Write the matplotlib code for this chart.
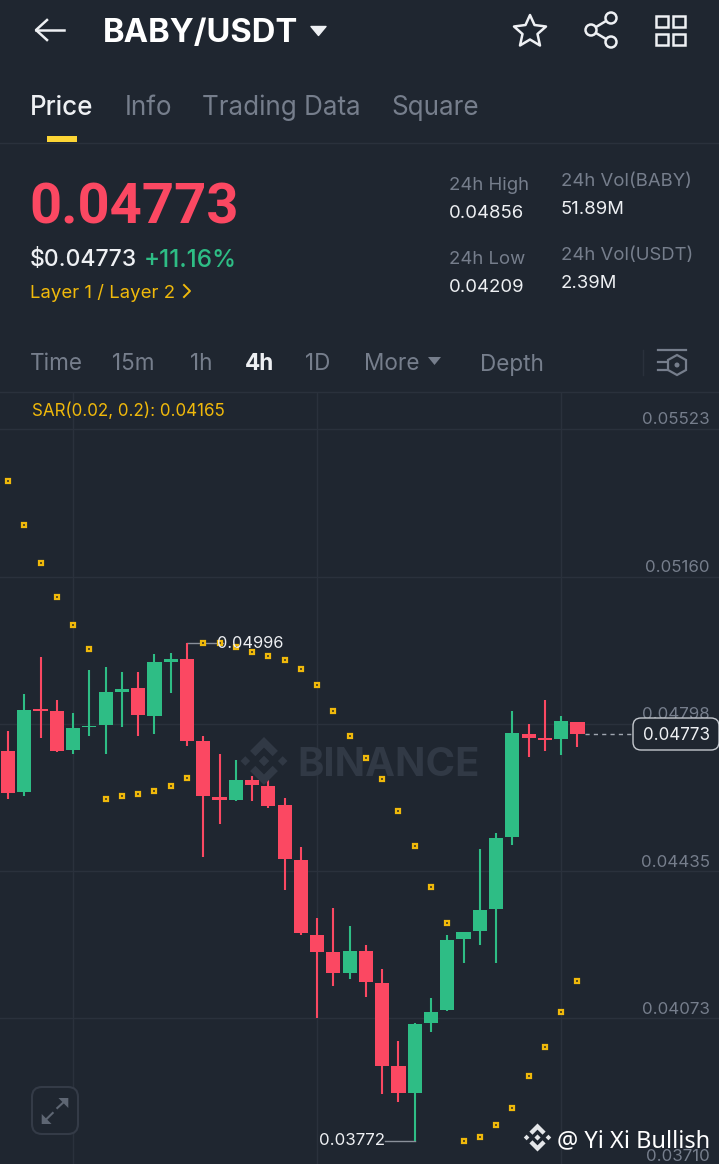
# -*- coding: utf-8 -*-
import matplotlib
matplotlib.use('Agg')
import matplotlib.pyplot as plt
from matplotlib.patches import Polygon, Circle, FancyBboxPatch, Rectangle

plt.rcParams['font.family'] = ['Inter', 'DejaVu Sans']

BG = '#1F2630'
GRID = '#2A313C'
RED = '#FB4862'
GREEN = '#2EBD85'
YELLOW = '#F0B90B'
GRAY = '#767E8C'
WHITE = '#EEF0F3'

# candle values
opens = [.04731, .04629, .04834, .04829, .04733, .04789, .04794, .04877, .04887, .04817, .04951, .04958,
         .04756, .04618, .04611, .04659, .04645, .04597, .04463, .04279, .04237, .04185, .04239, .04161,
         .03956, .03889, .04061, .04093, .04269, .04287, .04342, .04519, .04773, .04762, .04760, .04803]
closes = [.04628, .04832, .04829, .04731, .04788, .04793, .04875, .04883, .04819, .04949, .04957, .04755,
          .04619, .04610, .04660, .04647, .04596, .04465, .04282, .04236, .04184, .04238, .04163, .03956,
          .03889, .04060, .04088, .04266, .04286, .04339, .04517, .04774, .04762, .04757, .04805, .04773]
highs = [.04781, .04871, .04963, .04856, .04825, .04930, .04937, .04925, .04925, .04969, .04972, .04996,
         .04769, .04724, .04709, .04669, .04660, .04615, .04495, .04319, .04344, .04301, .04253, .04195,
         .04017, .04062, .04123, .04278, .04286, .04491, .04529, .04829, .04797, .04856, .04817, .04803]
lows = [.04613, .04621, .04764, .04728, .04724, .04767, .04724, .04791, .04768, .04773, .04874, .04743,
        .04469, .04551, .04609, .04609, .04591, .04389, .04279, .04075, .04152, .04171, .04126, .03887,
        .03868, .03772, .04040, .04092, .04209, .04254, .04209, .04500, .04717, .04731, .04722, .04741]
sar = [.05395, .05287, .05193, .05110, .05041, .04981, .04612, .04619, .04625, .04632, .04645, .04665,
       .04997, .04997, .04986, .04975, .04965, .04955, .04933, .04893, .04829, .04768, .04714, .04662,
       .04583, .04497, .04396, .04308, .03772, .03782, .03810, .03853, .03931, .04003, .04088, .04165]

price_ticks = [0.05523, 0.05160, 0.04798, 0.04435, 0.04073, 0.03710]
price_labels = ['0.05523', '0.05160', '0.04798', '0.04435', '0.04073', '0.03710']
time_grid = [4, 19, 34]
last_price = 0.04773
high_mark = 0.04996
low_mark = 0.03772
high_idx = 11
low_idx = 25

tabs = ['Price', 'Info', 'Trading Data', 'Square']
tab_x = [30, 125, 202, 391]
periods = ['Time', '15m', '1h', '4h', '1D', 'More', 'Depth']
period_x = [30, 112, 190, 245, 305, 364, 480]

fig = plt.figure(figsize=(7.19, 11.64), dpi=100, facecolor=BG)

# chart, spans the lower part of the screen (y 392 to 1164 px)
ax = fig.add_axes([0, 0, 1, 772 / 1164], facecolor=BG)
ax.set_xlim(-0.492, 43.70)
ax.set_ylim(0.03715, 0.05614)
for s in ax.spines.values():
    s.set_visible(False)
ax.set_xticks([])
ax.set_yticks([])

for p in price_ticks:
    ax.axhline(p, color=GRID, lw=1, zorder=1)
for t in time_grid:
    ax.axvline(t, color=GRID, lw=1, zorder=1)

for i in range(len(opens)):
    col = GREEN if closes[i] > opens[i] else RED
    ax.vlines(i, lows[i], highs[i], color=col, lw=1.5, zorder=3)
    ax.bar(i, abs(closes[i] - opens[i]), bottom=min(opens[i], closes[i]), width=0.87,
           color=col, linewidth=0, zorder=3)

ax.plot(range(len(sar)), sar, ls='none', marker='s', ms=3.5, mfc='#3B3520', mec=YELLOW, mew=1.6, zorder=4)

# high / low markers
ax.plot([high_idx, high_idx + 2.2], [high_mark, high_mark], color='#8A909A', lw=1, zorder=2)
ax.plot([high_idx, high_idx], [high_mark, highs[high_idx]], color=RED, lw=1.5, zorder=3)
ax.text(high_idx + 1.85, high_mark, '0.04996', color=WHITE, fontsize=11.8, va='center', zorder=5)
ax.plot([low_idx - 1.85, low_idx], [low_mark, low_mark], color='#8A909A', lw=1, zorder=2)
ax.text(low_idx - 1.85, low_mark, '0.03772', color=WHITE, fontsize=12.2, va='center', ha='right', zorder=5)

# last price
ax.plot([35.45, 38.35], [last_price, last_price], color='#A0A6B0', lw=1, ls=(0, (3, 3)), zorder=2)

# everything else is drawn in pixel coordinates
ui = fig.add_axes([0, 0, 1, 1], facecolor='none')
ui.set_xlim(0, 719)
ui.set_ylim(1164, 0)
ui.axis('off')


def put(x, y, s, px, color=GRAY, weight='normal', ha='left', family=None):
    t = ui.text(x, y, s, fontsize=px * 0.72, color=color, fontweight=weight, ha=ha, va='center_baseline')
    if family:
        t.set_family(family)
    return t


def binance_logo(cx, cy, r, color):
    top = [(0, -1), (.58, -.42), (.36, -.2), (0, -.56), (-.36, -.2), (-.58, -.42)]
    ui.add_patch(Polygon([(cx + a * r, cy + b * r) for a, b in top], fc=color, ec='none'))
    ui.add_patch(Polygon([(cx + a * r, cy - b * r) for a, b in top], fc=color, ec='none'))
    for dx, h in [(-.78, .2), (0, .22), (.78, .2)]:
        ui.add_patch(Polygon([(cx + dx * r - h * r, cy), (cx + dx * r, cy - h * r),
                              (cx + dx * r + h * r, cy), (cx + dx * r, cy + h * r)], fc=color, ec='none'))


# header
ui.plot([36, 64], [30, 30], color=WHITE, lw=1.8)
ui.plot([47, 36, 47], [20, 30, 40], color=WHITE, lw=1.8)
put(103, 30, 'BABY/USDT', 32.8, '#FFFFFF', 'bold')
ui.add_patch(Polygon([(311, 26.5), (326, 26.5), (318.5, 35.5)], fc=WHITE, ec=WHITE, lw=1, joinstyle='round'))

star = [(530, 15), (534.5, 25), (546, 26.5), (537.5, 34), (540, 45.5), (530, 39.5), (520, 45.5), (522.5, 34),
        (514, 26.5), (525.5, 25)]
ui.add_patch(Polygon(star, fc='none', ec=WHITE, lw=1.8, joinstyle='round'))
ui.plot([611, 591, 611], [18, 30, 42], color=WHITE, lw=1.8)
for cx, cy in [(591, 30), (611, 18), (611, 42)]:
    ui.add_patch(Circle((cx, cy), 5.5, fc=BG, ec=WHITE, lw=1.8, zorder=3))
for cx in [656, 673]:
    for cy in [16, 34]:
        ui.add_patch(Rectangle((cx, cy), 11.5, 10.5, fc='none', ec=WHITE, lw=1.8))

for x, s in zip(tab_x, tabs):
    put(x, 105, s, 26, WHITE if s == 'Price' else GRAY, 'medium' if s == 'Price' else 'normal')
ui.add_patch(Rectangle((47, 136), 30, 6, fc='#FCD535', ec='none'))
ui.plot([0, 719], [142.5, 142.5], color=GRID, lw=1)

# price block
put(29, 203, '0.04773', 56.2, RED, 'bold', family=['Roboto', 'DejaVu Sans'])
put(30, 258, '$0.04773', 23, WHITE, 'medium')
put(144, 258, '+11.16%', 24.2, GREEN, 'medium')
put(30, 291, 'Layer 1 / Layer 2', 18.6, YELLOW)
ui.plot([184, 190, 184], [285, 291, 297], color=YELLOW, lw=1.4)

put(449, 183, '24h High', 18.5, GRAY)
put(449, 211, '0.04856', 18.5, WHITE)
put(449, 257, '24h Low', 18.5, GRAY)
put(449, 285, '0.04209', 18.5, WHITE)
put(561, 180, '24h Vol(BABY)', 18.5, GRAY)
put(561, 208, '51.89M', 18.5, WHITE)
put(561, 254, '24h Vol(USDT)', 18.5, GRAY)
put(561, 282, '2.39M', 18.5, WHITE)

# period row
for x, s in zip(period_x, periods):
    put(x, 362, s, 22.5, WHITE if s == '4h' else GRAY, 'bold' if s == '4h' else 'normal')
ui.add_patch(Polygon([(428, 357), (441, 357), (434.5, 365)], fc=GRAY, ec='none'))
ui.plot([642.5, 642.5], [350, 375], color=GRID, lw=1)
ui.plot([658, 686], [350, 350], color=GRAY, lw=1.6)
ui.plot([658, 667], [362, 362], color=GRAY, lw=1.6)
ui.plot([658, 667], [370, 370], color=GRAY, lw=1.6)
hexa = [(677, 355), (686, 360), (686, 370), (677, 375), (668, 370), (668, 360)]
ui.add_patch(Polygon(hexa, fc='none', ec=GRAY, lw=1.6))
ui.add_patch(Circle((677, 365), 2.5, fc=GRAY, ec='none'))
ui.plot([0, 719], [392, 392], color=GRID, lw=1)
put(32, 409, 'SAR(0.02, 0.2): 0.04165', 17, YELLOW)

# axis labels, sit just above each grid line
for p, s in zip(price_ticks, price_labels):
    y = 429 + (0.05523 - p) / 2.46e-5 - 10.5
    put(710, y, s, 16.9, GRAY, ha='right')

# last price tag
ui.add_patch(FancyBboxPatch((636, 721), 80, 26, boxstyle='round,pad=3,rounding_size=8', fc=BG, ec='#C4C8CE', lw=1,
                            zorder=5))
t = put(710, 734, '0.04773', 17, WHITE, ha='right')
t.set_zorder(6)

# watermarks
binance_logo(264, 761, 24, '#313945')
put(297, 761, 'BINANCE', 40, '#313945', 'bold')
binance_logo(537.5, 1137.5, 14, '#E4E6E9')
put(557, 1138, '@ Yi Xi Bullish', 23.6, '#FFFFFF', 'medium', family=['Noto Sans', 'DejaVu Sans'])

# expand button
ui.add_patch(FancyBboxPatch((35, 1090), 40, 41, boxstyle='round,pad=3,rounding_size=10', fc=BG, ec='#343B47', lw=1.5))
for x0, y0, x1, y1 in [(52.7, 1113, 44, 1121.5), (57.3, 1108, 66, 1100)]:
    ui.plot([x0, x1], [y0, y1], color='#5E6673', lw=1.5)
ui.add_patch(Polygon([(41.7, 1124), (41.7, 1114), (51.5, 1124)], fc='#5E6673', ec='none'))
ui.add_patch(Polygon([(68.3, 1098), (68.3, 1108), (58.5, 1098)], fc='#5E6673', ec='none'))

fig.savefig('out.png', dpi=100, facecolor=BG)
